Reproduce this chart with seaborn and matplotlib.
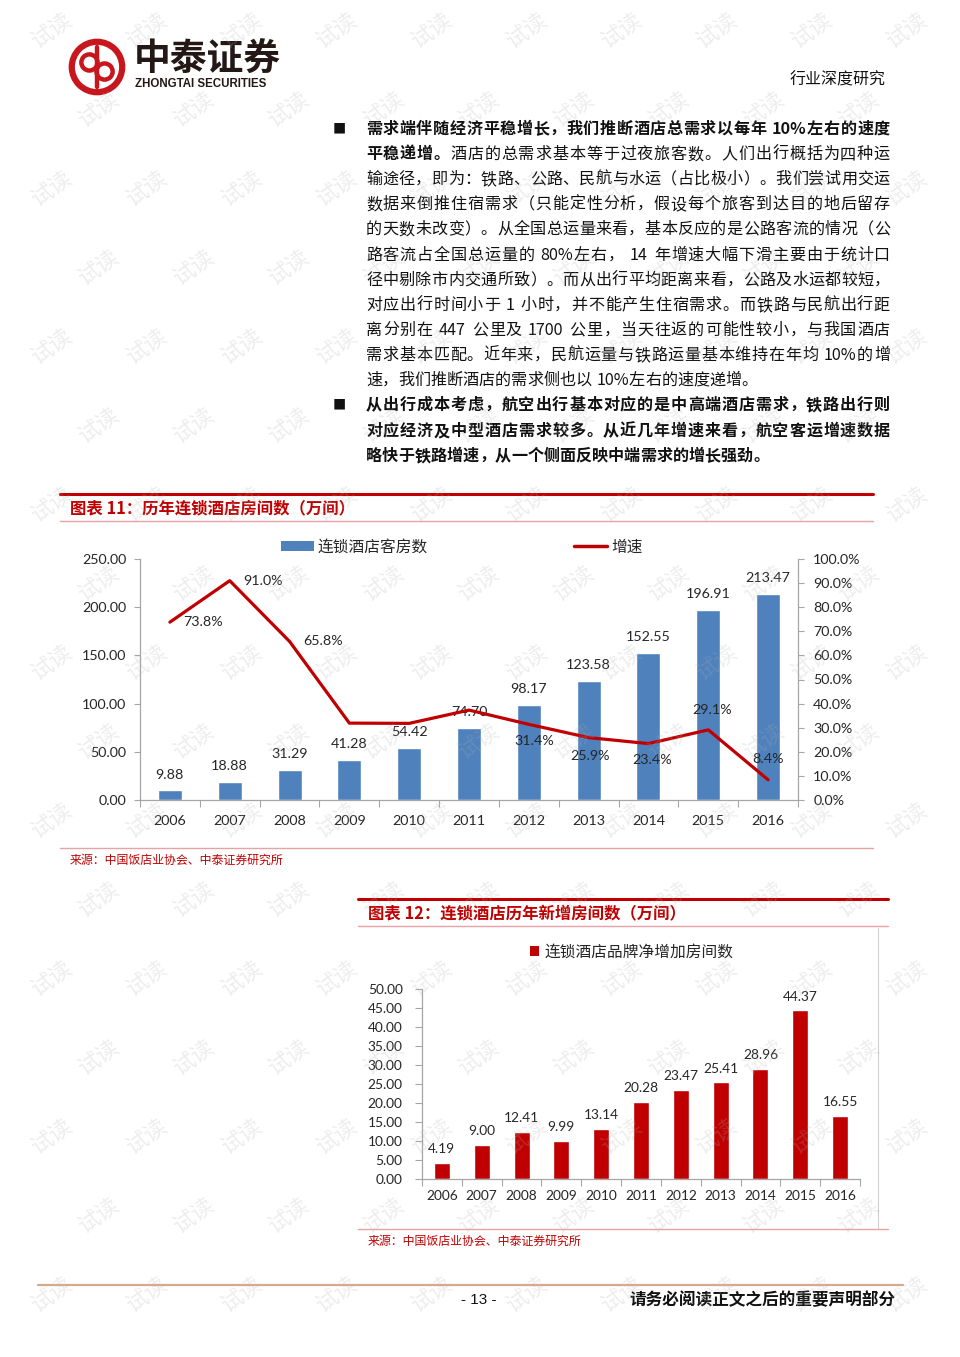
import matplotlib
matplotlib.use("Agg")
import matplotlib.pyplot as plt
from matplotlib.patches import Patch, Circle, Rectangle
from matplotlib.lines import Line2D
from matplotlib.font_manager import FontProperties
import seaborn as sns
import numpy as np

# 数据：历年连锁酒店房间数（万间）与增速
years = ["2006", "2007", "2008", "2009", "2010", "2011",
         "2012", "2013", "2014", "2015", "2016"]
rooms = [9.88, 18.88, 31.29, 41.28, 54.42, 74.70, 98.17, 123.58, 152.55, 196.91, 213.47]
growth = [73.8, 91.0, 65.8, 31.9, 31.8, 37.3, 31.4, 25.9, 23.4, 29.1, 8.4]
growth_labels = ["73.8%", "91.0%", "65.8%", "", "", "", "31.4%", "25.9%", "23.4%", "29.1%", "8.4%"]
# 连锁酒店品牌净增加房间数（万间）
new_rooms = [4.19, 9.00, 12.41, 9.99, 13.14, 20.28, 23.47, 25.41, 28.96, 44.37, 16.55]

CJK = ["Noto Sans CJK SC", "DejaVu Sans"]
NUM = ["Lato", "Noto Sans CJK SC", "DejaVu Sans"]
sns.set_theme(style="white")
plt.rcParams["font.family"] = CJK
plt.rcParams["axes.unicode_minus"] = False

RED = "#C00000"
BLUE = "#4F81BD"
PINK = "#E6A3A3"
AXC = "#A6A6A6"
TXT = "#262626"

W, H = 960, 1357
fig = plt.figure(figsize=(9.6, 13.57), dpi=100, facecolor="white")


def fx(x):
    return x / W


def fy(y):
    return 1 - y / H


def hline(x0, x1, y, color, lw):
    fig.add_artist(Line2D([fx(x0), fx(x1)], [fy(y), fy(y)], color=color, lw=lw,
                          transform=fig.transFigure))


# ---------- 页眉 ----------
logo = fig.add_axes([fx(68), fy(96), 58 / W, 58 / H])
logo.set_xlim(-1.15, 1.15)
logo.set_ylim(-1.15, 1.15)
logo.set_aspect("equal")
logo.axis("off")
logo.add_patch(Circle((0, 0), 1.0, fill=False, lw=4.5, ec="#C8161D"))
logo.add_patch(Circle((-0.3, 0.18), 0.32, fill=False, lw=3.2, ec="#C8161D"))
logo.add_patch(Circle((0.3, -0.18), 0.32, fill=False, lw=3.2, ec="#C8161D"))
logo.plot([0, 0], [-0.8, 0.8], color="#C8161D", lw=3.2)

fig.text(fx(134), fy(60), "中泰证券", fontsize=26.5, fontweight="bold", color="#231815",
         ha="left", va="center")
fig.text(fx(135), fy(84), "ZHONGTAI SECURITIES", fontsize=8.3, fontweight="bold",
         family=["Liberation Sans", "DejaVu Sans"], color="#231815", ha="left", va="center")
fig.text(fx(886), fy(80), "行业深度研究", fontsize=11.5, color="#111111", ha="right", va="center")

# ---------- 正文（两端对齐） ----------
body = [
    ([("需求端伴随经济平稳增长，我们推断酒店总需求以每年 10%左右的速度", "bold")], True, True),
    ([("平稳递增。", "bold"), ("酒店的总需求基本等于过夜旅客数。人们出行概括为四种运", "normal")], True, False),
    ([("输途径，即为：铁路、公路、民航与水运（占比极小）。我们尝试用交运", "normal")], True, False),
    ([("数据来倒推住宿需求（只能定性分析，假设每个旅客到达目的地后留存", "normal")], True, False),
    ([("的天数未改变）。从全国总运量来看，基本反应的是公路客流的情况（公", "normal")], True, False),
    ([("路客流占全国总运量的 80%左右， 14 年增速大幅下滑主要由于统计口", "normal")], True, False),
    ([("径中剔除市内交通所致）。而从出行平均距离来看，公路及水运都较短，", "normal")], True, False),
    ([("对应出行时间小于 1 小时，并不能产生住宿需求。而铁路与民航出行距", "normal")], True, False),
    ([("离分别在 447 公里及 1700 公里，当天往返的可能性较小，与我国酒店", "normal")], True, False),
    ([("需求基本匹配。近年来，民航运量与铁路运量基本维持在年均 10%的增", "normal")], True, False),
    ([("速，我们推断酒店的需求侧也以 10%左右的速度递增。", "normal")], False, False),
    ([("从出行成本考虑，航空出行基本对应的是中高端酒店需求，铁路出行则", "bold")], True, True),
    ([("对应经济及中型酒店需求较多。从近几年增速来看，航空客运增速数据", "bold")], True, False),
    ([("略快于铁路增速，从一个侧面反映中端需求的增长强劲。", "bold")], False, False),
]
line_y = [128, 153, 178, 203, 228, 254, 279, 304, 329, 354, 379, 404, 430, 455]
BODY_FS = 11.6
renderer = fig.canvas.get_renderer()
px_per_pt = 100 / 72


def tokenize(s):
    out, buf = [], ""
    for ch in s:
        if ord(ch) < 128 and ch != " ":
            buf += ch
        else:
            if buf:
                out.append(buf)
                buf = ""
            out.append(ch)
    if buf:
        out.append(buf)
    return out


for (segs, justify, bullet), yy in zip(body, line_y):
    toks = []
    for s, wt in segs:
        for t in tokenize(s):
            toks.append((t, wt))
    widths = []
    for t, wt in toks:
        if t == " ":
            widths.append(BODY_FS * px_per_pt * 0.28)
        else:
            fp = FontProperties(family=CJK, size=BODY_FS, weight=wt)
            widths.append(renderer.get_text_width_height_descent(t, fp, ismath=False)[0])
    x0, x1 = 366, 890
    gap = (x1 - x0 - sum(widths)) / (len(toks) - 1) if justify else 0.0
    x = x0
    for (t, wt), w in zip(toks, widths):
        if t != " ":
            fig.text(fx(x), fy(yy + 6), t, fontsize=BODY_FS, fontweight=wt, color="#111111",
                     ha="left", va="baseline")
        x += w + gap
    if bullet:
        fig.text(fx(333), fy(yy + 5), "■", fontsize=9.5, color="#111111", ha="left", va="baseline")

# ---------- 图表 11 ----------
hline(60, 873, 494, RED, 2.2)
fig.text(fx(70), fy(508), "图表 11：历年连锁酒店房间数（万间）", fontsize=11.8, fontweight="bold",
         fontstyle="italic", color=RED, ha="left", va="center")
hline(60, 873, 521, PINK, 1.0)

ax1 = fig.add_axes([fx(140), fy(800), (798 - 140) / W, (800 - 559) / H])
sns.barplot(x=years, y=rooms, ax=ax1, color=BLUE, width=0.4, saturation=1)
ax1.set_xlim(-0.5, 10.5)
ax1.set_ylim(0, 250)
ax1.set_yticks(np.arange(0, 251, 50))
ax1.set_yticklabels([f"{v:.2f}" for v in np.arange(0, 251, 50)])
ax1.set_xlabel("")
ax1.set_ylabel("")
ax1.tick_params(axis="y", which="major", left=True, length=4, width=0.8, color=AXC,
                direction="out", pad=6, labelsize=10.3, labelcolor=TXT)
ax1.set_xticks(np.arange(-0.5, 11, 1), minor=True)
ax1.tick_params(axis="x", which="major", length=0, pad=11, labelsize=10.3, labelcolor=TXT)
ax1.tick_params(axis="x", which="minor", bottom=True, length=5, width=0.8, color=AXC, direction="out")
for lab in ax1.get_xticklabels() + ax1.get_yticklabels():
    lab.set_family(NUM)
for sp in ["top", "right"]:
    ax1.spines[sp].set_visible(False)
for sp in ["left", "bottom"]:
    ax1.spines[sp].set_color(AXC)
    ax1.spines[sp].set_linewidth(0.9)
ax1.patch.set_alpha(0)

for i, v in enumerate(rooms):
    ax1.annotate(f"{v:.2f}", (i, v), xytext=(0, 11.5), textcoords="offset points",
                 ha="center", va="center", fontsize=10.3, color=TXT, family=NUM)

ax2 = ax1.twinx()
sns.lineplot(x=np.arange(len(years)), y=np.array(growth) / 100, ax=ax2, color=RED, linewidth=2.3)
ax2.set_ylim(0, 1.0)
ax2.set_xlim(-0.5, 10.5)
ax2.set_yticks(np.arange(0, 1.01, 0.1))
ax2.set_yticklabels([f"{v * 100:.1f}%" for v in np.arange(0, 1.01, 0.1)])
ax2.set_ylabel("")
ax2.tick_params(axis="y", right=True, length=4, width=0.8, color=AXC, direction="out",
                pad=7, labelsize=10.3, labelcolor=TXT)
for lab in ax2.get_yticklabels():
    lab.set_family(NUM)
for sp in ["top", "left", "bottom"]:
    ax2.spines[sp].set_visible(False)
ax2.spines["right"].set_color(AXC)
ax2.spines["right"].set_linewidth(0.9)

growth_offsets = [(24, 0), (24, 0), (24, 0), (0, 0), (0, 0), (0, 0),
                  (4, -12), (1, -13), (3, -12), (3, 14), (0, 15)]
for i, (g, lab) in enumerate(zip(growth, growth_labels)):
    if lab:
        ax2.annotate(lab, (i, g / 100), xytext=growth_offsets[i], textcoords="offset points",
                     ha="center", va="center", fontsize=10.3, color=TXT, family=NUM)

fig.legend(handles=[Patch(facecolor=BLUE, edgecolor="none"),
                    Line2D([0], [0], color=RED, lw=2.5)],
           labels=["连锁酒店客房数", "增速"], loc="center left",
           bbox_to_anchor=(fx(281), fy(547)), ncol=2, frameon=False, fontsize=11.3,
           handlelength=2.1, handleheight=0.55, handletextpad=0.25, columnspacing=9.3,
           borderaxespad=0, borderpad=0)

hline(60, 873, 848, PINK, 1.0)
fig.text(fx(70), fy(860), "来源：中国饭店业协会、中泰证券研究所", fontsize=8.6, color=RED,
         ha="left", va="center")

# ---------- 图表 12 ----------
hline(358, 888, 899, RED, 2.2)
fig.text(fx(368), fy(913), "图表 12：连锁酒店历年新增房间数（万间）", fontsize=11.8, fontweight="bold",
         fontstyle="italic", color=RED, ha="left", va="center")
hline(358, 888, 926, PINK, 1.0)
fig.add_artist(Line2D([fx(878), fx(878)], [fy(928), fy(1228)], color="#D0D0D0", lw=0.8,
                      transform=fig.transFigure))

ax3 = fig.add_axes([fx(422), fy(1179), (860 - 422) / W, (1179 - 989) / H])
sns.barplot(x=years, y=new_rooms, ax=ax3, color=RED, width=0.4, saturation=1)
ax3.set_xlim(-0.5, 10.5)
ax3.set_ylim(0, 50)
ax3.set_yticks(np.arange(0, 51, 5))
ax3.set_yticklabels([f"{v:.2f}" for v in np.arange(0, 51, 5)])
ax3.set_xlabel("")
ax3.set_ylabel("")
ax3.tick_params(axis="y", left=True, length=5, width=0.8, color=AXC, direction="out",
                pad=9, labelsize=9.9, labelcolor=TXT)
ax3.set_xticks(np.arange(-0.5, 11, 1), minor=True)
ax3.tick_params(axis="x", which="major", length=0, pad=8, labelsize=9.9, labelcolor=TXT)
ax3.tick_params(axis="x", which="minor", bottom=True, length=5, width=0.8, color=AXC, direction="out")
for lab in ax3.get_xticklabels() + ax3.get_yticklabels():
    lab.set_family(NUM)
for sp in ["top", "right"]:
    ax3.spines[sp].set_visible(False)
for sp in ["left", "bottom"]:
    ax3.spines[sp].set_color(AXC)
    ax3.spines[sp].set_linewidth(0.9)
ax3.patch.set_alpha(0)

for i, v in enumerate(new_rooms):
    ax3.annotate(f"{v:.2f}", (i, v), xytext=(0, 10), textcoords="offset points",
                 ha="center", va="center", fontsize=9.9, color=TXT, family=NUM)

fig.legend(handles=[Rectangle((0, 0), 1, 1, facecolor=RED, edgecolor="none")],
           labels=["连锁酒店品牌净增加房间数"], loc="center left",
           bbox_to_anchor=(fx(530), fy(952)), frameon=False, fontsize=11.3,
           handlelength=0.6, handleheight=0.6, handletextpad=0.3,
           borderaxespad=0, borderpad=0)

hline(358, 888, 1229, PINK, 1.0)
fig.text(fx(368), fy(1241), "来源：中国饭店业协会、中泰证券研究所", fontsize=8.6, color=RED,
         ha="left", va="center")

# ---------- 页脚 ----------
hline(38, 903, 1285, "#D9A98C", 1.6)
fig.text(fx(479), fy(1300), "- 13 -", fontsize=11, family=["Liberation Sans", "DejaVu Sans"],
         color="#111111", ha="center", va="center")
fig.text(fx(895), fy(1300), "请务必阅读正文之后的重要声明部分", fontsize=12, fontweight="bold",
         color="#111111", ha="right", va="center")

# ---------- 水印（只放在页面内） ----------
for r in range(17):
    yy = 30 + r * 79
    off = 0 if r % 2 == 0 else 47
    for xx in range(52 + off, 925, 95):
        fig.text(fx(xx), fy(yy), "试读", rotation=35, fontsize=16, color="#B0B0B0",
                 alpha=0.22, ha="center", va="center", zorder=10)

fig.savefig("out.png", dpi=100, facecolor="white")
plt.close(fig)
